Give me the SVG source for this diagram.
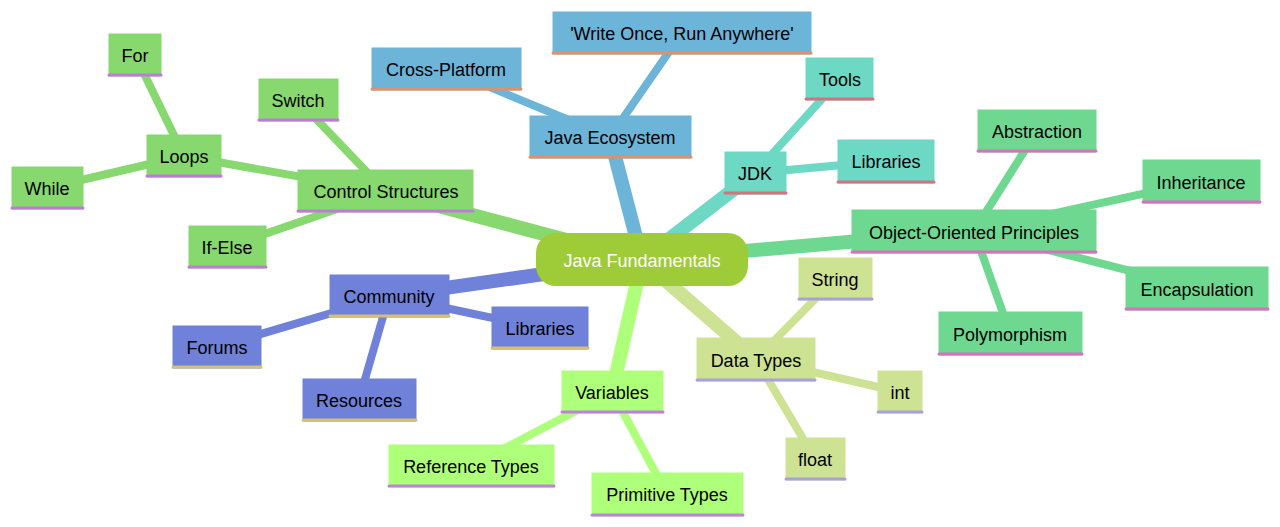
<svg xmlns="http://www.w3.org/2000/svg" width="1280" height="527" viewBox="0 0 1280 527">
<style>
text{font-family:"Liberation Sans",Arial,sans-serif;font-size:18px;text-anchor:middle;dominant-baseline:central;fill:#000}
line{stroke-linecap:round}
.e1{stroke-width:14}.e2{stroke-width:8}
.cs{fill:#86d86f;stroke:#86d86f}.je{fill:#6cb4d8;stroke:#6cb4d8}.jd{fill:#6dd8c4;stroke:#6dd8c4}.oo{fill:#6fd890;stroke:#6fd890}.dt{fill:#cde293;stroke:#cde293}.va{fill:#aeff7a;stroke:#aeff7a}.co{fill:#6f81d8;stroke:#6f81d8}
</style>
<g id="connectors">
<line class="cs e1" x1="642" y1="260" x2="386" y2="192"/>
<line class="cs e2" x1="386" y1="192" x2="298" y2="100"/>
<line class="cs e2" x1="386" y1="192" x2="184" y2="156"/>
<line class="cs e2" x1="184" y1="156" x2="135" y2="55"/>
<line class="cs e2" x1="184" y1="156" x2="47" y2="188"/>
<line class="cs e2" x1="386" y1="192" x2="227" y2="247"/>
<line class="je e1" x1="642" y1="260" x2="610" y2="137"/>
<line class="je e2" x1="610" y1="137" x2="446" y2="69"/>
<line class="je e2" x1="610" y1="137" x2="682" y2="33"/>
<line class="jd e1" x1="642" y1="260" x2="755" y2="173"/>
<line class="jd e2" x1="755" y1="173" x2="840" y2="79"/>
<line class="jd e2" x1="755" y1="173" x2="886" y2="161"/>
<line class="oo e1" x1="642" y1="260" x2="974" y2="231"/>
<line class="oo e2" x1="974" y1="231" x2="1037" y2="131"/>
<line class="oo e2" x1="974" y1="231" x2="1201" y2="181"/>
<line class="oo e2" x1="974" y1="231" x2="1197" y2="288"/>
<line class="oo e2" x1="974" y1="231" x2="1010" y2="333"/>
<line class="dt e1" x1="642" y1="260" x2="756" y2="359"/>
<line class="dt e2" x1="756" y1="359" x2="835" y2="279"/>
<line class="dt e2" x1="756" y1="359" x2="900" y2="392"/>
<line class="dt e2" x1="756" y1="359" x2="815" y2="459"/>
<line class="va e1" x1="642" y1="260" x2="612" y2="392"/>
<line class="va e2" x1="612" y1="392" x2="471" y2="466"/>
<line class="va e2" x1="612" y1="392" x2="667" y2="494"/>
<line class="co e1" x1="642" y1="260" x2="389" y2="296"/>
<line class="co e2" x1="389" y1="296" x2="217" y2="347"/>
<line class="co e2" x1="389" y1="296" x2="540" y2="328"/>
<line class="co e2" x1="389" y1="296" x2="359" y2="400"/>
</g>
<g id="root"><rect x="536" y="233" width="212" height="53" rx="20" fill="#9ecb38"/><text x="642" y="261" style="fill:#fff">Java Fundamentals</text></g>
<g id="n-cs"><rect class="cs" x="298" y="170" width="175" height="42" stroke="none"/><line x1="298" y1="211" x2="473" y2="211" stroke="#c07adb" stroke-width="3" stroke-linecap="butt"/><text x="386" y="192">Control Structures</text></g>
<g id="n-sw"><rect class="cs" x="259" y="79" width="79" height="42" stroke="none"/><line x1="259" y1="120" x2="338" y2="120" stroke="#c07adb" stroke-width="3" stroke-linecap="butt"/><text x="298" y="101">Switch</text></g>
<g id="n-lo"><rect class="cs" x="147" y="135" width="74" height="42" stroke="none"/><line x1="147" y1="176" x2="221" y2="176" stroke="#c07adb" stroke-width="3" stroke-linecap="butt"/><text x="184" y="157">Loops</text></g>
<g id="n-for"><rect class="cs" x="109" y="34" width="52" height="42" stroke="none"/><line x1="109" y1="75" x2="161" y2="75" stroke="#c07adb" stroke-width="3" stroke-linecap="butt"/><text x="135" y="56">For</text></g>
<g id="n-wh"><rect class="cs" x="12" y="167" width="71" height="42" stroke="none"/><line x1="12" y1="208" x2="83" y2="208" stroke="#c07adb" stroke-width="3" stroke-linecap="butt"/><text x="47" y="189">While</text></g>
<g id="n-if"><rect class="cs" x="189" y="226" width="77" height="42" stroke="none"/><line x1="189" y1="267" x2="266" y2="267" stroke="#c07adb" stroke-width="3" stroke-linecap="butt"/><text x="227" y="248">If-Else</text></g>
<g id="n-je"><rect class="je" x="530" y="116" width="161" height="42" stroke="none"/><line x1="530" y1="157" x2="691" y2="157" stroke="#e0906a" stroke-width="3" stroke-linecap="butt"/><text x="610" y="138">Java Ecosystem</text></g>
<g id="n-cp"><rect class="je" x="372" y="48" width="149" height="42" stroke="none"/><line x1="372" y1="89" x2="521" y2="89" stroke="#e0906a" stroke-width="3" stroke-linecap="butt"/><text x="446" y="70">Cross-Platform</text></g>
<g id="n-wo"><rect class="je" x="553" y="12" width="258" height="42" stroke="none"/><line x1="553" y1="53" x2="811" y2="53" stroke="#e0906a" stroke-width="3" stroke-linecap="butt"/><text x="682" y="34">'Write Once, Run Anywhere'</text></g>
<g id="n-jdk"><rect class="jd" x="725" y="152" width="61" height="42" stroke="none"/><line x1="725" y1="193" x2="786" y2="193" stroke="#d87080" stroke-width="3" stroke-linecap="butt"/><text x="755" y="174">JDK</text></g>
<g id="n-to"><rect class="jd" x="806" y="58" width="67" height="42" stroke="none"/><line x1="806" y1="99" x2="873" y2="99" stroke="#d87080" stroke-width="3" stroke-linecap="butt"/><text x="840" y="80">Tools</text></g>
<g id="n-li1"><rect class="jd" x="838" y="140" width="96" height="43" stroke="none"/><line x1="838" y1="182" x2="934" y2="182" stroke="#d87080" stroke-width="3" stroke-linecap="butt"/><text x="886" y="162">Libraries</text></g>
<g id="n-oo"><rect class="oo" x="852" y="210" width="244" height="43" stroke="none"/><line x1="852" y1="252" x2="1096" y2="252" stroke="#d870c0" stroke-width="3" stroke-linecap="butt"/><text x="974" y="233">Object-Oriented Principles</text></g>
<g id="n-ab"><rect class="oo" x="978" y="110" width="118" height="42" stroke="none"/><line x1="978" y1="151" x2="1096" y2="151" stroke="#d870c0" stroke-width="3" stroke-linecap="butt"/><text x="1037" y="132">Abstraction</text></g>
<g id="n-in"><rect class="oo" x="1143" y="160" width="117" height="43" stroke="none"/><line x1="1143" y1="202" x2="1260" y2="202" stroke="#d870c0" stroke-width="3" stroke-linecap="butt"/><text x="1201" y="183">Inheritance</text></g>
<g id="n-en"><rect class="oo" x="1126" y="267" width="142" height="43" stroke="none"/><line x1="1126" y1="309" x2="1268" y2="309" stroke="#d870c0" stroke-width="3" stroke-linecap="butt"/><text x="1197" y="290">Encapsulation</text></g>
<g id="n-po"><rect class="oo" x="939" y="312" width="143" height="43" stroke="none"/><line x1="939" y1="354" x2="1082" y2="354" stroke="#d870c0" stroke-width="3" stroke-linecap="butt"/><text x="1010" y="335">Polymorphism</text></g>
<g id="n-dt"><rect class="dt" x="697" y="338" width="118" height="43" stroke="none"/><line x1="697" y1="380" x2="815" y2="380" stroke="#a8a0e0" stroke-width="3" stroke-linecap="butt"/><text x="756" y="361">Data Types</text></g>
<g id="n-st"><rect class="dt" x="799" y="258" width="73" height="42" stroke="none"/><line x1="799" y1="299" x2="872" y2="299" stroke="#a8a0e0" stroke-width="3" stroke-linecap="butt"/><text x="835" y="280">String</text></g>
<g id="n-int"><rect class="dt" x="878" y="371" width="44" height="42" stroke="none"/><line x1="878" y1="412" x2="922" y2="412" stroke="#a8a0e0" stroke-width="3" stroke-linecap="butt"/><text x="900" y="393">int</text></g>
<g id="n-fl"><rect class="dt" x="786" y="438" width="59" height="42" stroke="none"/><line x1="786" y1="479" x2="845" y2="479" stroke="#a8a0e0" stroke-width="3" stroke-linecap="butt"/><text x="815" y="460">float</text></g>
<g id="n-va"><rect class="va" x="562" y="371" width="101" height="42" stroke="none"/><line x1="562" y1="412" x2="663" y2="412" stroke="#c080e0" stroke-width="3" stroke-linecap="butt"/><text x="612" y="393">Variables</text></g>
<g id="n-rt"><rect class="va" x="389" y="445" width="165" height="42" stroke="none"/><line x1="389" y1="486" x2="554" y2="486" stroke="#c080e0" stroke-width="3" stroke-linecap="butt"/><text x="471" y="467">Reference Types</text></g>
<g id="n-pt"><rect class="va" x="592" y="473" width="151" height="43" stroke="none"/><line x1="592" y1="515" x2="743" y2="515" stroke="#c080e0" stroke-width="3" stroke-linecap="butt"/><text x="667" y="495">Primitive Types</text></g>
<g id="n-co"><rect class="co" x="330" y="275" width="119" height="42" stroke="none"/><line x1="330" y1="316" x2="449" y2="316" stroke="#d8c070" stroke-width="3" stroke-linecap="butt"/><text x="389" y="297">Community</text></g>
<g id="n-fo"><rect class="co" x="173" y="326" width="88" height="42" stroke="none"/><line x1="173" y1="367" x2="261" y2="367" stroke="#d8c070" stroke-width="3" stroke-linecap="butt"/><text x="217" y="348">Forums</text></g>
<g id="n-li2"><rect class="co" x="492" y="307" width="96" height="42" stroke="none"/><line x1="492" y1="348" x2="588" y2="348" stroke="#d8c070" stroke-width="3" stroke-linecap="butt"/><text x="540" y="329">Libraries</text></g>
<g id="n-re"><rect class="co" x="303" y="379" width="113" height="42" stroke="none"/><line x1="303" y1="420" x2="416" y2="420" stroke="#d8c070" stroke-width="3" stroke-linecap="butt"/><text x="359" y="401">Resources</text></g>
</svg>
